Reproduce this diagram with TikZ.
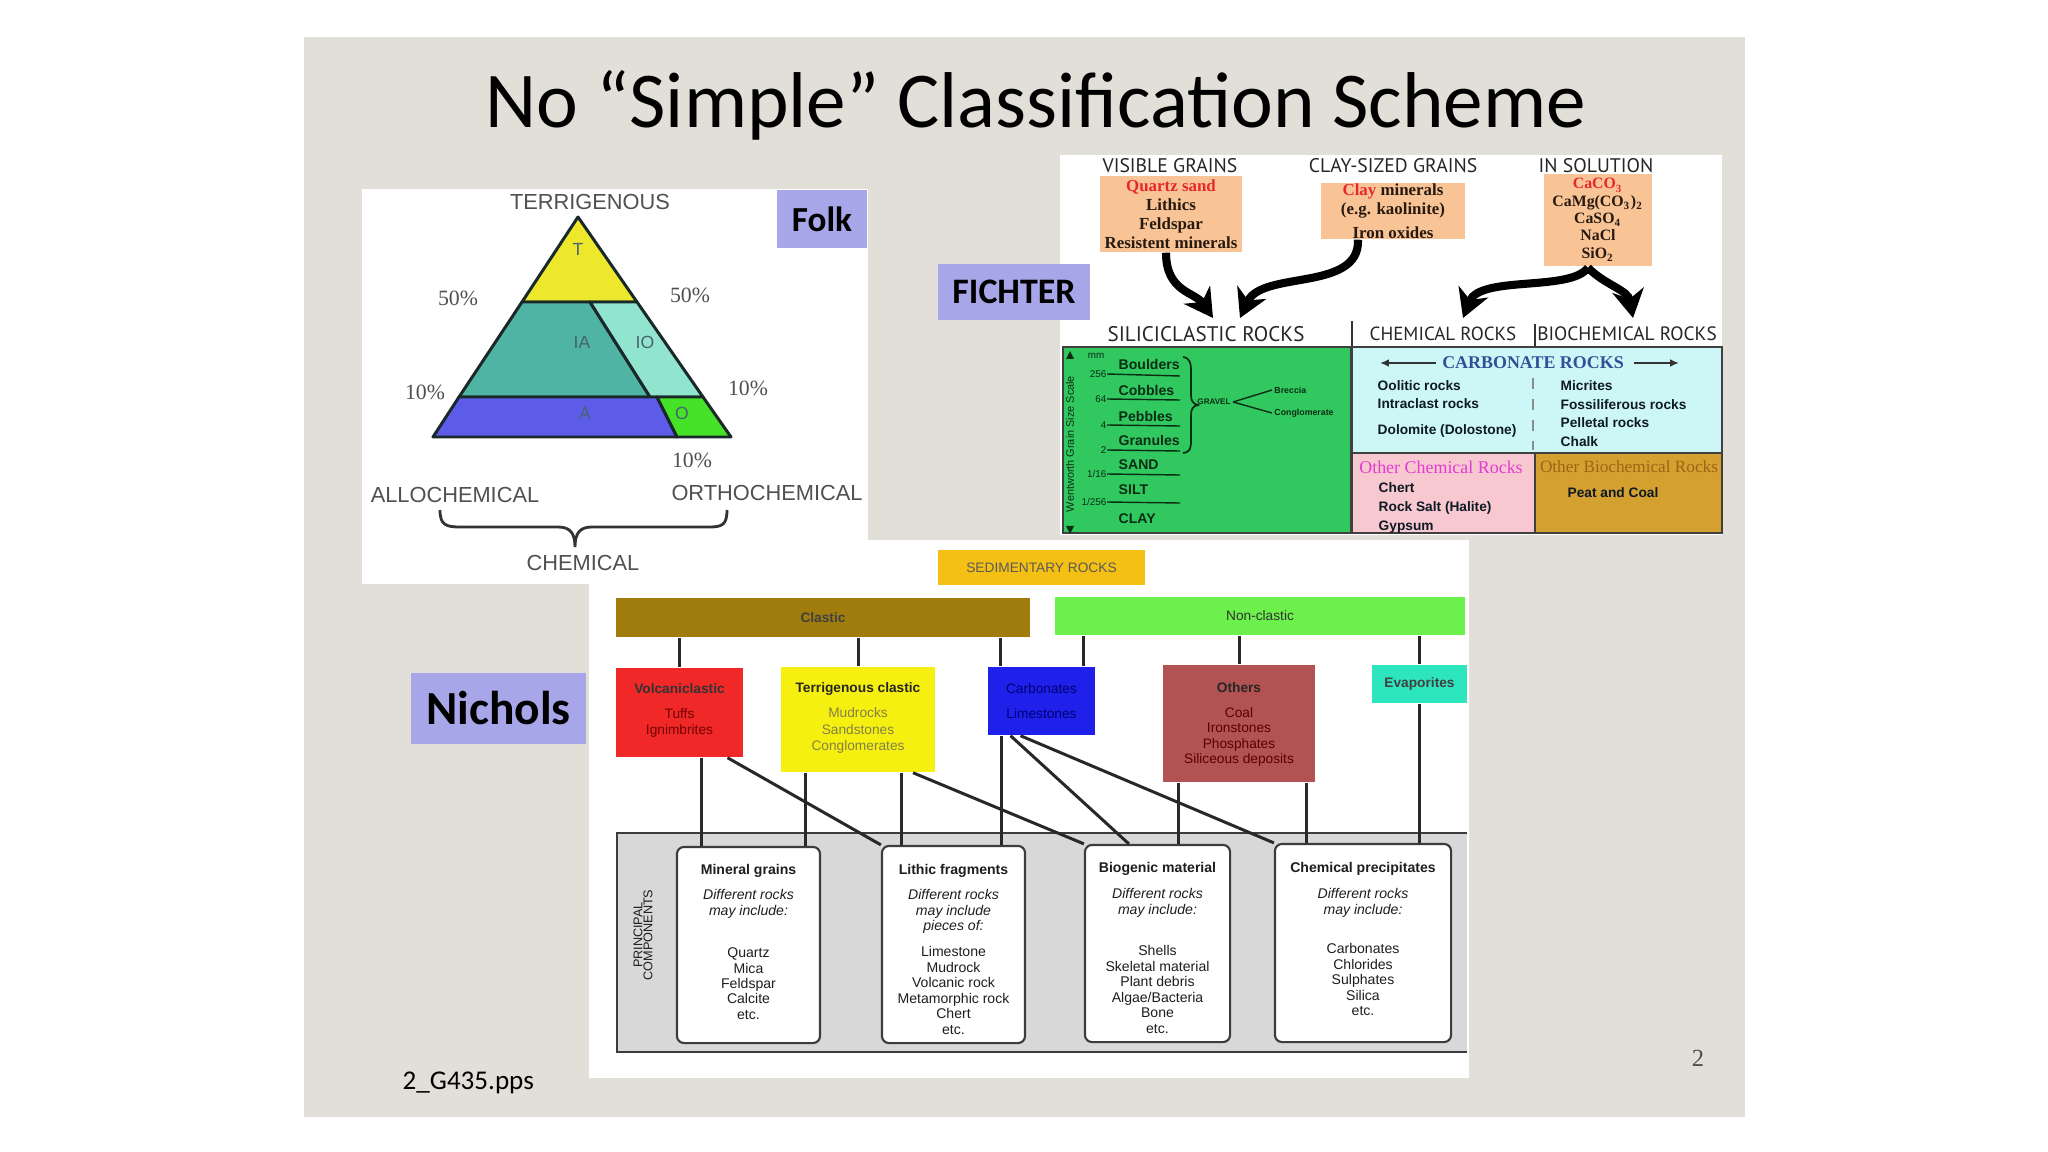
\documentclass[tikz,border=0pt]{standalone}
\usepackage{fontspec}
\setmainfont{Liberation Serif}
\setsansfont{Liberation Sans}
\newfontfamily\calib{Carlito}
\newfontfamily\ptsans{PT Sans}
\usetikzlibrary{arrows.meta,calc}
\newcommand\fs[2]{\fontsize{#1}{#2}\selectfont}
\definecolor{slidebg}{RGB}{226,223,216}
\definecolor{lav}{RGB}{166,166,232}
\definecolor{folkgray}{RGB}{80,80,80}
\definecolor{triline}{RGB}{25,40,40}
\definecolor{cT}{RGB}{238,232,44}
\definecolor{cIA}{RGB}{80,180,165}
\definecolor{cIO}{RGB}{145,228,205}
\definecolor{cA}{RGB}{92,92,232}
\definecolor{cO}{RGB}{70,226,40}
\definecolor{trilbl}{RGB}{70,100,110}
\definecolor{peach}{RGB}{248,196,150}
\definecolor{qred}{RGB}{232,40,40}
\definecolor{srctext}{RGB}{40,25,15}
\definecolor{sgreen}{RGB}{50,200,96}
\definecolor{gtext}{RGB}{10,45,20}
\definecolor{ccyan}{RGB}{205,247,247}
\definecolor{cpink}{RGB}{248,200,208}
\definecolor{cgold}{RGB}{212,160,48}
\definecolor{carbblue}{RGB}{50,80,150}
\definecolor{cmag}{RGB}{225,60,210}
\definecolor{goldtext}{RGB}{160,100,20}
\definecolor{listtext}{RGB}{15,25,35}
\definecolor{sedy}{RGB}{245,192,20}
\definecolor{clastc}{RGB}{160,124,12}
\definecolor{nonclastc}{RGB}{108,240,76}
\definecolor{volcc}{RGB}{240,40,40}
\definecolor{terrc}{RGB}{245,240,16}
\definecolor{carbc}{RGB}{32,32,235}
\definecolor{othc}{RGB}{178,82,82}
\definecolor{evapc}{RGB}{46,230,190}
\definecolor{pcgray}{RGB}{216,216,216}
\definecolor{connc}{RGB}{40,40,40}
\definecolor{compline}{RGB}{60,60,60}
\definecolor{comptext}{RGB}{30,30,30}
\begin{document}
\begin{tikzpicture}[x=0.01cm, y=-0.01cm,
  lbl/.style={fill=lav, inner sep=0},
  tri/.style={draw=triline, line width=0.85pt, line join=round},
  ftxt/.style={font=\sffamily\fs{6.2}{7}, text=folkgray, inner sep=0},
  pct/.style={font=\rmfamily\fs{6.2}{7}, text=folkgray, inner sep=0},
  tlbl/.style={font=\sffamily\fs{5}{6}, text=trilbl, inner sep=0},
  fhead/.style={font=\ptsans\fs{5.6}{6}, inner sep=0, text=black!85},
  srcbox/.style={fill=peach, inner sep=0, align=center, font=\rmfamily\bfseries\fs{4.8}{5.4}, text=srctext},
  farr/.style={line width=2.3pt, -{Stealth[length=8pt,width=9pt,inset=2.5pt]}},
  cell/.style={draw=black!75, line width=0.5pt, inner sep=0},
  gtxt/.style={font=\sffamily\bfseries\fs{4}{4.5}, text=gtext, inner sep=0},
  gnum/.style={font=\sffamily\fs{2.8}{3}, text=gtext, inner sep=0},
  gline/.style={draw=gtext, line width=0.4pt},
  clist/.style={font=\sffamily\bfseries\fs{3.9}{5.2}, text=listtext, align=left, inner sep=0},
  carbarr/.style={line width=0.5pt, draw=black!80, -{Latex[length=2.5pt,width=2.2pt]}},
  nbox/.style={inner sep=0},
  ntxt/.style={font=\sffamily\fs{3.9}{4.6}, align=center, inner sep=0, anchor=north},
  conn/.style={draw=connc, line width=0.85pt},
  comp/.style={draw=compline, line width=0.6pt, rounded corners=2pt, fill=white, inner sep=0},
  ctxt/.style={font=\sffamily\fs{4}{4.4}, align=center, inner sep=0, text=comptext, anchor=north}
]
\useasboundingbox (0,0) rectangle (2048,1152);
\fill[white] (0,0) rectangle (2048,1152);
\fill[slidebg] (304,37) rectangle (1745,1117);

% title
\node[anchor=base, inner sep=0, font=\calib\fs{22.5}{27}] (title) at (1036,128) {No “Simple” Classification Scheme};

% white panels
\fill[white] (362,189) rectangle (868,584);
\fill[white] (589,540) rectangle (1469,1078);
\fill[white] (1060,155) rectangle (1722,535);

% ---------------- Folk ----------------
\node[lbl, font=\calib\bfseries\fs{10}{12}, minimum width=0.90cm, minimum height=0.57cm] (folk) at (822,219) {Folk};
\node[ftxt] (terrig) at (590,202) {TERRIGENOUS};
\filldraw[tri, fill=cT] (578,217) -- (637,302) -- (522,302) -- cycle;
\filldraw[tri, fill=cIA] (522,302) -- (590,302) -- (650,397) -- (459,397) -- cycle;
\filldraw[tri, fill=cIO] (590,302) -- (637,302) -- (703,397) -- (650,397) -- cycle;
\filldraw[tri, fill=cA] (459,397) -- (657,397) -- (677,437) -- (433,437) -- cycle;
\filldraw[tri, fill=cO] (657,397) -- (703,397) -- (731,437) -- (677,437) -- cycle;
\node[tlbl] (lT) at (578,249) {T};
\node[tlbl] (lIA) at (582,342) {IA};
\node[tlbl] (lIO) at (645,342) {IO};
\node[tlbl] (lA) at (585,413) {A};
\node[tlbl] (lO) at (682,413) {O};
\node[pct] (p50l) at (458,298) {50\%};
\node[pct] (p50r) at (690,295) {50\%};
\node[pct] (p10l) at (425,392) {10\%};
\node[pct] (p10r) at (748,388) {10\%};
\node[pct] (p10b) at (692,460) {10\%};
\node[ftxt] (allo) at (455,495) {ALLOCHEMICAL};
\node[ftxt] (ortho) at (767,493) {ORTHOCHEMICAL};
\draw[line width=0.8pt, draw=black!80] (440,510) .. controls (440,525) and (446,527) .. (460,527) -- (558,527) .. controls (570,527) and (575,533) .. (575,547) .. controls (575,533) and (580,527) .. (592,527) -- (709,527) .. controls (722,527) and (727,525) .. (727,510);
\node[ftxt] (chemb) at (583,563) {CHEMICAL};

% ---------------- Fichter ----------------
\node[lbl, font=\calib\bfseries\fs{10.2}{12}, minimum width=1.52cm, minimum height=0.55cm] (fichter) at (1014,292) {FICHTER};
\node[fhead] (hvis) at (1170,166) {VISIBLE GRAINS};
\node[fhead] (hclay) at (1393,166) {CLAY-SIZED GRAINS};
\node[fhead] (hsol) at (1596,166) {IN SOLUTION};
\node[srcbox, minimum width=1.41cm, minimum height=0.76cm] (b1) at (1171,214) {\textcolor{qred}{Quartz sand}\\Lithics\\Feldspar\\Resistent minerals};
\node[srcbox, minimum width=1.43cm, minimum height=0.56cm] (b2) at (1393,211) {\textcolor{qred}{Clay} minerals\\(e.g. kaolinite)\\[1.5pt]Iron oxides};
\node[srcbox, minimum width=1.08cm, minimum height=0.92cm, font=\rmfamily\bfseries\fs{4.5}{4.95}] (b3) at (1598,220) {\textcolor{qred}{CaCO\textsubscript{3}}\\CaMg(CO\textsubscript{3})\textsubscript{2}\\CaSO\textsubscript{4}\\NaCl\\SiO\textsubscript{2}};
\node[fhead, font=\ptsans\fs{6}{7}] (hsil) at (1206,334) {SILICICLASTIC ROCKS};
\node[fhead, font=\ptsans\fs{5.4}{7}] (hchem) at (1443,334) {CHEMICAL ROCKS};
\node[fhead, font=\ptsans\fs{5.5}{7}] (hbio) at (1627,334) {BIOCHEMICAL ROCKS};
\draw[black!80, line width=0.5pt] (1352,321) -- (1352,347);
\draw[black!80, line width=0.5pt] (1535,324) -- (1535,347);
\coordinate (t1) at (1213,318);
\coordinate (t2) at (1240,318);
\coordinate (t3) at (1463,318);
\coordinate (t4) at (1633,318);
\draw[farr] ($(b1.south)+(-5,0)$) .. controls (1166,292) and (1195,292) .. (t1);
\draw[farr] ($(b2.south)+(-35,0)$) .. controls (1360,292) and (1262,270) .. (t2);
\draw[farr] ($(b3.south)+(-10,1)$) .. controls (1570,292) and (1480,275) .. (t3);
\draw[farr] ($(b3.south)+(-10,1)$) .. controls (1605,285) and (1628,290) .. (t4);

% siliciclastic cell
\node[cell, fill=sgreen, minimum width=2.88cm, minimum height=1.86cm] (green) at (1207,440) {};
\node[rotate=90, font=\sffamily\fs{3.1}{3.5}, text=gtext, inner sep=0] (went) at (1070,444) {Wentworth Grain Size Scale};
\fill[gtext] (1066,359) -- (1074,359) -- (1070,351) -- cycle;
\fill[gtext] (1066,526) -- (1074,526) -- (1070,534) -- cycle;
\node[gnum, anchor=east] (nmm) at (1105,356) {mm};
\node[gnum, anchor=east] (n256) at (1107,374) {256};
\node[gnum, anchor=east] (n64) at (1107,399) {64};
\node[gnum, anchor=east] (n4) at (1107,425) {4};
\node[gnum, anchor=east] (n2) at (1107,450) {2};
\node[gnum, anchor=east] (n16) at (1107,474) {1/16};
\node[gnum, anchor=east] (n256b) at (1107,502) {1/256};
\draw[gline] (n64.east) -- (1180,400);
\draw[gline] (n4.east) -- (1180,426);
\draw[gline] (n16.east) -- (1180,475);
\draw[gline] (n256b.east) -- (1180,503);
\draw[gline] (n256.east) -- (1180,376);
\draw[gline] (n2.east) -- (1180,451);
\node[gtxt, anchor=west] (boul) at (1118,364) {Boulders};
\node[gtxt, anchor=west] (cobb) at (1118,390) {Cobbles};
\node[gtxt, anchor=west] (pebb) at (1118,416) {Pebbles};
\node[gtxt, anchor=west] (gran) at (1118,440) {Granules};
\node[gtxt, anchor=west] (sand) at (1118,465) {SAND};
\node[gtxt, anchor=west] (silt) at (1118,490) {SILT};
\node[gtxt, anchor=west] (clay) at (1118,519) {CLAY};
\draw[draw=gtext, line width=0.5pt] (1183,357) .. controls (1190,358) and (1191,363) .. (1191,372) -- (1191,395) .. controls (1191,401) and (1193,404) .. (1198,405) .. controls (1193,406) and (1191,409) .. (1191,415) -- (1191,440) .. controls (1191,449) and (1190,452) .. (1183,453);
\node[font=\sffamily\bfseries\fs{2.3}{3}, text=gtext, inner sep=0.5pt] (gravel) at (1214,402) {GRAVEL};
\node[font=\sffamily\bfseries\fs{2.5}{3}, text=gtext, inner sep=0.5pt, anchor=west] (brec) at (1272,390) {Breccia};
\node[font=\sffamily\bfseries\fs{2.5}{3}, text=gtext, inner sep=0.5pt, anchor=west] (cong) at (1272,413) {Conglomerate};
\draw[gline] (gravel.east) -- (brec.west);
\draw[gline] (gravel.east) -- (cong.west);

% carbonate cell
\node[cell, fill=ccyan, minimum width=3.70cm, minimum height=1.06cm] (cyan) at (1537,400) {};
\node[font=\rmfamily\bfseries\fs{5.1}{6}, text=carbblue, inner sep=0] (carbt) at (1533,363) {CARBONATE ROCKS};
\coordinate (cal) at (1380,363);
\coordinate (car) at (1679,363);
\draw[carbarr] ($(carbt.west)+(-6,0)$) -- (cal);
\draw[carbarr] ($(carbt.east)+(10,0)$) -- (car);
\draw[black!45, dashed, line width=0.4pt] (1533,378) -- (1533,450);
\node[clist, anchor=north west] (cleft) at (1377,380) {Oolitic rocks\\Intraclast rocks\\[2pt]Dolomite (Dolostone)};
\node[clist, anchor=north west, font=\sffamily\bfseries\fs{3.9}{5.3}] (cright) at (1560,380) {Micrites\\Fossiliferous rocks\\Pelletal rocks\\Chalk};

% other chemical / biochemical cells
\node[cell, fill=cpink, minimum width=1.83cm, minimum height=0.80cm] (pink) at (1443.5,493) {};
\node[cell, fill=cgold, minimum width=1.87cm, minimum height=0.80cm] (gold) at (1628.5,493) {};
\node[font=\rmfamily\fs{5.1}{6}, text=cmag, inner sep=0] (othchem) at (1441,467) {Other Chemical Rocks};
\node[font=\rmfamily\fs{4.9}{6}, text=goldtext, inner sep=0] (othbio) at (1629,467) {Other Biochemical Rocks};
\node[clist, anchor=north west, font=\sffamily\bfseries\fs{3.9}{5.4}] (plist) at (1378,482) {Chert\\Rock Salt (Halite)\\Gypsum};
\node[clist, anchor=west] (peat) at (1567,493) {Peat and Coal};

% ---------------- Nichols ----------------
\node[lbl, font=\calib\bfseries\fs{13.5}{16}, minimum width=1.75cm, minimum height=0.71cm] (nichols) at (498.5,708.5) {Nichols};
\node[nbox, fill=sedy, minimum width=2.07cm, minimum height=0.35cm, font=\sffamily\fs{3.9}{4.5}, text=black!65] (sed) at (1041.5,567.5) {SEDIMENTARY ROCKS};
\node[nbox, fill=clastc, minimum width=4.14cm, minimum height=0.39cm, font=\sffamily\bfseries\fs{3.9}{4.5}, text=black!75] (nclast) at (823,617.5) {Clastic};
\node[nbox, fill=nonclastc, minimum width=4.10cm, minimum height=0.38cm, font=\sffamily\fs{3.9}{4.5}, text=black!80] (nnon) at (1260,616) {Non-clastic};
\node[nbox, fill=volcc, minimum width=1.27cm, minimum height=0.89cm] (nvolc) at (679.5,712.5) {};
\node[nbox, fill=terrc, minimum width=1.54cm, minimum height=1.05cm] (nterr) at (858,719.5) {};
\node[nbox, fill=carbc, minimum width=1.07cm, minimum height=0.68cm] (ncarb) at (1041.5,701) {};
\node[nbox, fill=othc, minimum width=1.52cm, minimum height=1.17cm] (noth) at (1239,723.5) {};
\node[nbox, fill=evapc, minimum width=0.95cm, minimum height=0.38cm, font=\sffamily\bfseries\fs{3.9}{4.5}, text=black!75] (nevap) at (1419.5,684) {Evaporites};
\node[ntxt, text=red!45!black] (tvolc) at (679.5,683) {\textbf{\color{black!80}Volcaniclastic}\\[2.4pt]Tuffs\\Ignimbrites};
\node[ntxt, text=yellow!45!black] (tterr) at (858,682) {\textbf{\color{black!85}Terrigenous clastic}\\[2.6pt]Mudrocks\\Sandstones\\Conglomerates};
\node[ntxt, text=blue!45!black] (tcarb) at (1041.5,683) {Carbonates\\[2.6pt]Limestones};
\node[ntxt, text=red!35!black, font=\sffamily\fs{3.9}{4.4}] (toth) at (1239,682) {\textbf{\color{black!85}Others}\\[2.6pt]Coal\\Ironstones\\Phosphates\\Siliceous deposits};

% principal components panel
\fill[pcgray] (617,833) rectangle (1467,1052);
\draw[draw=compline, line width=0.7pt] (1467,833) -- (617,833) -- (617,1052) -- (1467,1052);
\node[rotate=90, font=\sffamily\fs{3.6}{3.6}, text=comptext, inner sep=0] (pc1) at (638,935) {PRINCIPAL};
\node[rotate=90, font=\sffamily\fs{3.6}{3.6}, text=comptext, inner sep=0] (pc2) at (648,935) {COMPONENTS};

% connectors, upper level
\draw[conn] (nclast.south -| nvolc.north) -- (nvolc.north);
\draw[conn] (nclast.south -| nterr.north) -- (nterr.north);
\coordinate (xc1) at (1000,0);
\coordinate (xc2) at (1083,0);
\draw[conn] (xc1 |- nclast.south) -- (xc1 |- ncarb.north);
\draw[conn] (xc2 |- nnon.south) -- (xc2 |- ncarb.north);
\draw[conn] (nnon.south -| noth.north) -- (noth.north);
\draw[conn] (nnon.south -| nevap.north) -- (nevap.north);

% component boxes
\node[comp, minimum width=1.43cm, minimum height=1.96cm] (mineral) at (748.5,945) {};
\node[comp, minimum width=1.43cm, minimum height=1.97cm] (lithic) at (953.5,944.5) {};
\node[comp, minimum width=1.45cm, minimum height=1.97cm] (bio) at (1157.5,943.5) {};
\node[comp, minimum width=1.76cm, minimum height=1.98cm] (chem) at (1363,943) {};

% connectors, lower level
\coordinate (xa) at (701,0);
\coordinate (xb) at (805,0);
\coordinate (xc) at (901,0);
\coordinate (xd) at (1001,0);
\coordinate (xe) at (1178,0);
\coordinate (xf) at (1306,0);
\draw[conn] (xa |- nvolc.south) -- (xa |- mineral.north);
\draw[conn] ($(nvolc.south)+(48,0)$) -- (lithic.north west);
\draw[conn] (xb |- nterr.south) -- (xb |- mineral.north);
\draw[conn] (xc |- nterr.south) -- (xc |- lithic.north);
\draw[conn] ($(nterr.south)+(55,0)$) -- (bio.north west);
\draw[conn] (xd |- ncarb.south) -- (xd |- lithic.north);
\draw[conn] ($(ncarb.south)+(-31,0)$) -- ($(bio.north west)+(45,0)$);
\draw[conn] ($(ncarb.south)+(-21,0)$) -- (chem.north west);
\draw[conn] (xe |- noth.south) -- (xe |- bio.north);
\draw[conn] (xf |- noth.south) -- (xf |- chem.north);
\draw[conn] (nevap.south) -- (nevap.south |- chem.north);

% component texts
\node[ctxt, font=\sffamily\bfseries\fs{4}{4.4}] (m1) at (748.5,864) {Mineral grains};
\node[ctxt, font=\sffamily\itshape\fs{4}{4.4}] (m2) at (748.5,889) {Different rocks\\may include:};
\node[ctxt] (m3) at (748.5,947) {Quartz\\Mica\\Feldspar\\Calcite\\etc.};
\node[ctxt, font=\sffamily\bfseries\fs{4}{4.4}] (l1) at (953.5,864) {Lithic fragments};
\node[ctxt, font=\sffamily\itshape\fs{4}{4.4}] (l2) at (953.5,889) {Different rocks\\may include\\pieces of:};
\node[ctxt] (l3) at (953.5,946) {Limestone\\Mudrock\\Volcanic rock\\Metamorphic rock\\Chert\\etc.};
\node[ctxt, font=\sffamily\bfseries\fs{4}{4.4}] (g1) at (1157.5,862) {Biogenic material};
\node[ctxt, font=\sffamily\itshape\fs{4}{4.4}] (g2) at (1157.5,888) {Different rocks\\may include:};
\node[ctxt] (g3) at (1157.5,945) {Shells\\Skeletal material\\Plant debris\\Algae/Bacteria\\Bone\\etc.};
\node[ctxt, font=\sffamily\bfseries\fs{4}{4.4}] (c1) at (1363,862) {Chemical precipitates};
\node[ctxt, font=\sffamily\itshape\fs{4}{4.4}] (c2) at (1363,888) {Different rocks\\may include:};
\node[ctxt] (c3) at (1363,943) {Carbonates\\Chlorides\\Sulphates\\Silica\\etc.};

% footer
\node[anchor=base west, inner sep=0, font=\calib\fs{7.7}{9}] (fname) at (402,1089) {2\_G435.pps};
\node[inner sep=0, font=\rmfamily\fs{7}{8}, text=black!70] (pnum) at (1698,1058) {2};
\end{tikzpicture}
\end{document}
